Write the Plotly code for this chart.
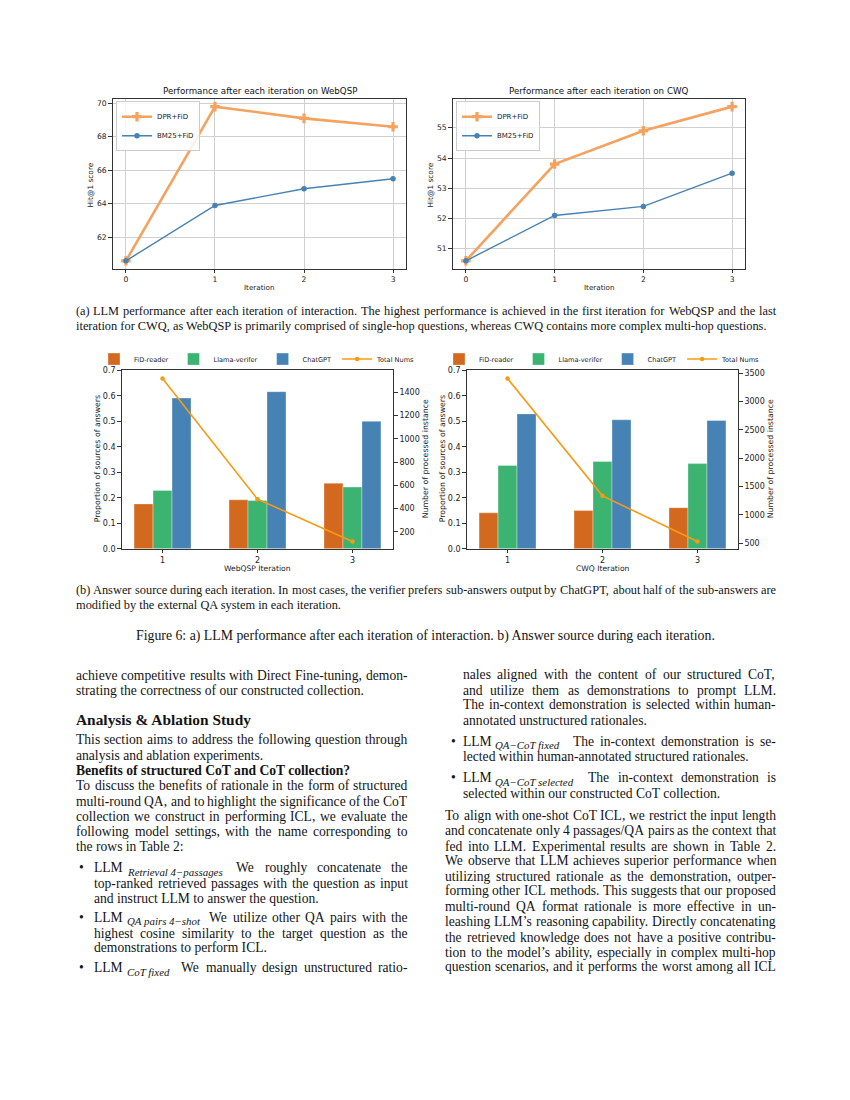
import re
import plotly.graph_objects as go

W, H = 850, 1100


def X(px):
    return px / W


def Y(py):
    return 1 - py / H


SANS = "DejaVu Sans"
SERIF = "Liberation Serif"
INK = "#141414"

# ---------------- data ----------------
iterations = [0, 1, 2, 3]
webqsp_dpr_fid = [60.6, 69.8, 69.1, 68.6]
webqsp_bm25_fid = [60.6, 63.9, 64.9, 65.5]
cwq_dpr_fid = [50.6, 53.8, 54.9, 55.7]
cwq_bm25_fid = [50.6, 52.1, 52.4, 53.5]

src_iters = [1, 2, 3]
webqsp_fid_reader = [0.176, 0.192, 0.257]
webqsp_llama_verifer = [0.229, 0.189, 0.242]
webqsp_chatgpt = [0.591, 0.616, 0.500]
webqsp_total_nums = [1520, 482, 118]
cwq_fid_reader = [0.141, 0.150, 0.161]
cwq_llama_verifer = [0.327, 0.342, 0.334]
cwq_chatgpt = [0.529, 0.506, 0.503]
cwq_total_nums = [3405, 1335, 530]

line_series = ["DPR+FiD", "BM25+FiD"]
source_series = ["FiD-reader", "Llama-verifer", "ChatGPT", "Total Nums"]

DPR_C = "#F4A25F"
BM25_C = "#4682B4"
FID_C = "#D2691E"
LLAMA_C = "#3CB371"
GPT_C = "#4682B4"
TOT_C = "#F89B14"
GRID = "#d0d0d0"
SPINE = "#333333"

fig = go.Figure()

# ---------------- line charts ----------------
for xa, ya, lg, dpr, bm in [("x", "y", "legend", webqsp_dpr_fid, webqsp_bm25_fid),
                            ("x2", "y2", "legend2", cwq_dpr_fid, cwq_bm25_fid)]:
    fig.add_trace(go.Scatter(x=iterations, y=dpr, name=line_series[0], mode="lines+markers",
                             line=dict(color=DPR_C, width=2.6),
                             marker=dict(symbol="cross", size=8, color=DPR_C),
                             xaxis=xa, yaxis=ya, legend=lg))
    fig.add_trace(go.Scatter(x=iterations, y=bm, name=line_series[1], mode="lines+markers",
                             line=dict(color=BM25_C, width=1.4),
                             marker=dict(symbol="circle", size=5.5, color=BM25_C),
                             xaxis=xa, yaxis=ya, legend=lg))

# ---------------- bar charts ----------------
for xa, ya, ya2, lg, fid, lla, gpt, tot in [
        ("x3", "y3", "y4", "legend3", webqsp_fid_reader, webqsp_llama_verifer, webqsp_chatgpt, webqsp_total_nums),
        ("x4", "y5", "y6", "legend4", cwq_fid_reader, cwq_llama_verifer, cwq_chatgpt, cwq_total_nums)]:
    for name, vals, col, off in [(source_series[0], fid, FID_C, -0.3),
                                 (source_series[1], lla, LLAMA_C, -0.1),
                                 (source_series[2], gpt, GPT_C, 0.1)]:
        fig.add_trace(go.Bar(x=src_iters, y=vals, name=name, width=0.2, offset=off,
                             marker=dict(color=col, line=dict(color="rgba(255,255,255,0.55)", width=0.6)),
                             xaxis=xa, yaxis=ya, legend=lg))
    fig.add_trace(go.Scatter(x=src_iters, y=tot, name=source_series[3], mode="lines+markers",
                             line=dict(color=TOT_C, width=1.6),
                             marker=dict(symbol="circle", size=4.5, color=TOT_C),
                             xaxis=xa, yaxis=ya2, legend=lg))


def ax(**kw):
    d = dict(showline=True, linecolor=SPINE, linewidth=1, ticks="outside", ticklen=3.5,
             tickwidth=1, tickcolor=SPINE, zeroline=False, showgrid=False,
             tickfont=dict(family=SANS, size=7.6, color="#222"))
    d.update(kw)
    return d


LC_Y = [Y(266.7), Y(95.7)]
BC_Y = [Y(549.3), Y(369.3)]
bar_tick = dict(family=SANS, size=8, color="#222")

layout_axes = dict(
    xaxis=ax(domain=[X(112.6), X(406.4)], anchor="y", range=[-0.15, 3.15], tick0=0, dtick=1,
             mirror=True, showgrid=True, gridcolor=GRID, gridwidth=0.8),
    yaxis=ax(domain=LC_Y, anchor="x", range=[60.14, 70.26], tick0=0, dtick=2,
             mirror=True, showgrid=True, gridcolor=GRID, gridwidth=0.8),
    xaxis2=ax(domain=[X(452.6), X(745.4)], anchor="y2", range=[-0.15, 3.15], tick0=0, dtick=1,
              mirror=True, showgrid=True, gridcolor=GRID, gridwidth=0.8),
    yaxis2=ax(domain=LC_Y, anchor="x2", range=[50.345, 55.955], tick0=0, dtick=1,
              mirror=True, showgrid=True, gridcolor=GRID, gridwidth=0.8),
    xaxis3=ax(domain=[X(121.7), X(393.3)], anchor="y3", range=[0.57, 3.43], tick0=0, dtick=1,
              mirror=True, tickfont=bar_tick),
    yaxis3=ax(domain=BC_Y, anchor="x3", range=[0, 0.7], tick0=0, dtick=0.1, tickformat=".1f",
              tickfont=bar_tick),
    yaxis4=ax(overlaying="y3", anchor="x3", side="right", range=[55, 1590], tick0=0, dtick=200,
              tickfont=bar_tick),
    xaxis4=ax(domain=[X(466.7), X(738.3)], anchor="y5", range=[0.57, 3.43], tick0=0, dtick=1,
              mirror=True, tickfont=bar_tick),
    yaxis5=ax(domain=BC_Y, anchor="x4", range=[0, 0.7], tick0=0, dtick=0.1, tickformat=".1f",
              tickfont=bar_tick),
    yaxis6=ax(overlaying="y5", anchor="x4", side="right", range=[400, 3552], tick0=0, dtick=500,
              tickfont=bar_tick),
)

line_legend = lambda xpx: dict(x=X(xpx), y=Y(98), xanchor="left", yanchor="top",
                               bgcolor="rgba(255,255,255,0.85)", bordercolor="#cccccc", borderwidth=1,
                               font=dict(family=SANS, size=7.0, color="#222"), itemwidth=30,
                               tracegroupgap=0)
bar_legend = lambda xpx: dict(x=X(xpx), y=Y(358), xanchor="center", yanchor="middle",
                              orientation="h", bgcolor="rgba(0,0,0,0)",
                              font=dict(family=SANS, size=6.6, color="#222"), itemwidth=30)

# ---------------- text ----------------
TW = {' ': 250, '!': 333, '"': 408, '#': 500, '$': 500, '%': 833, '&': 778, "'": 180, '(': 333,
      ')': 333, '*': 500, '+': 564, ',': 250, '-': 333, '.': 250, '/': 278, ':': 278, ';': 278,
      '<': 564, '=': 564, '>': 564, '?': 444, '@': 921, '[': 333, ']': 333, '’': 333, '•': 350,
      '−': 564,
      'A': 722, 'B': 667, 'C': 667, 'D': 722, 'E': 611, 'F': 556, 'G': 722, 'H': 722, 'I': 333,
      'J': 389, 'K': 722, 'L': 611, 'M': 889, 'N': 722, 'O': 722, 'P': 556, 'Q': 722, 'R': 667,
      'S': 556, 'T': 611, 'U': 722, 'V': 722, 'W': 944, 'X': 722, 'Y': 722, 'Z': 611,
      'a': 444, 'b': 500, 'c': 444, 'd': 500, 'e': 444, 'f': 333, 'g': 500, 'h': 500, 'i': 278,
      'j': 278, 'k': 500, 'l': 278, 'm': 778, 'n': 500, 'o': 500, 'p': 500, 'q': 500, 'r': 333,
      's': 389, 't': 278, 'u': 500, 'v': 500, 'w': 722, 'x': 500, 'y': 500, 'z': 444}
for d in "0123456789":
    TW[d] = 500


def em(s):
    return sum(TW.get(c, 500) for c in s) / 1000.0


ann = []


def put(text, xpx, ypx, size, family=SERIF, xanchor="left", color=INK, angle=0):
    ann.append(dict(text=text, x=X(xpx), y=Y(ypx), xref="paper", yref="paper", showarrow=False,
                    xanchor=xanchor, yanchor="middle", textangle=angle, borderpad=0,
                    font=dict(family=family, size=size, color=color)))


SUB_F = 0.8


def place_line(text, x0, x1, yc, size, justify):
    toks = re.findall(r'_\{[^}]*\}|\S+', text)
    has_sub = any(t.startswith('_{') for t in toks)
    if not justify and not has_sub:
        put(text, x0, yc, size)
        return
    items = []
    for t in toks:
        if t.startswith('_{'):
            s = t[2:-1]
            sz = size * SUB_F
            items.append(("<i>%s</i>" % s, sz, em(s) * sz * 1.07, size * 0.3, True))
        else:
            items.append((t, size, em(t) * size, 0.0, False))
    fixed_gap = size * 0.3
    n_fixed = sum(1 for it in items if it[4])
    total = sum(i[2] for i in items) + n_fixed * fixed_gap
    n_gaps = len(items) - 1 - n_fixed
    if justify and n_gaps > 0:
        gap = (x1 - x0 - total) / n_gaps
    else:
        gap = size * 0.25
    x = x0
    for k, (txt, sz, w, dy, is_sub) in enumerate(items):
        if is_sub:
            x = x - gap + fixed_gap
        put(txt, x, yc + dy, sz)
        x += w + gap


BODY = 13.6

# captions
cap_a = ["(a) LLM performance after each iteration of interaction. The highest performance is achieved in the first iteration for WebQSP and the last",
         "iteration for CWQ, as WebQSP is primarily comprised of single-hop questions, whereas CWQ contains more complex multi-hop questions."]
cap_b = ["(b) Answer source during each iteration. In most cases, the verifier prefers sub-answers output by ChatGPT, about half of the sub-answers are",
         "modified by the external QA system in each iteration."]
fig_caption = "Figure 6: a) LLM performance after each iteration of interaction. b) Answer source during each iteration."

CAP = min(693.0 / em(cap_a[1]), 13.6)
place_line(cap_a[0], 75, 775, 310, CAP, True)
place_line(cap_a[1], 75, 775, 325, CAP, False)
place_line(cap_b[0], 75, 775, 591, CAP, True)
place_line(cap_b[1], 75, 775, 606, CAP, False)
FIGCAP = min(580.0 / em(fig_caption), 14.2)
put(fig_caption, 425, 637.5, FIGCAP, xanchor="center")

# left column
left_col = [
    ("achieve competitive results with Direct Fine-tuning, demon-", 676.7, True, 75),
    ("strating the correctness of our constructed collection.", 692.3, False, 75),
    ("This section aims to address the following question through", 741.7, True, 75),
    ("analysis and ablation experiments.", 757.7, False, 75),
    ("To discuss the benefits of rationale in the form of structured", 788.3, True, 75),
    ("multi-round QA, and to highlight the significance of the CoT", 804.0, True, 75),
    ("collection we construct in performing ICL, we evaluate the", 819.3, True, 75),
    ("following model settings, with the name corresponding to", 834.3, True, 75),
    ("the rows in Table 2:", 849.3, False, 75),
    ("LLM _{Retrieval 4−passages} We roughly concatenate the", 871.0, True, 93.3),
    ("top-ranked retrieved passages with the question as input", 886.7, True, 93.3),
    ("and instruct LLM to answer the question.", 901.7, False, 93.3),
    ("LLM _{QA pairs 4−shot} We utilize other QA pairs with the", 920.7, True, 93.3),
    ("highest cosine similarity to the target question as the", 936.7, True, 93.3),
    ("demonstrations to perform ICL.", 951.7, False, 93.3),
    ("LLM _{CoT fixed} We manually design unstructured ratio-", 971.7, True, 93.3),
]
for txt, yc, j, x0 in left_col:
    place_line(txt, x0, 406.5, yc, BODY, j)
for yb in [871.0, 920.7, 971.7]:
    put("•", 78.3, yb, BODY)
put("<b>Analysis &amp; Ablation Study</b>", 75, 721.7, 15.4)
put("<b>Benefits of structured CoT and CoT collection?</b>", 75, 773.3, BODY)

# right column
right_col = [
    ("nales aligned with the content of our structured CoT,", 676.0, True, 461.7),
    ("and utilize them as demonstrations to prompt LLM.", 691.7, True, 461.7),
    ("The in-context demonstration is selected within human-", 706.7, True, 461.7),
    ("annotated unstructured rationales.", 722.3, False, 461.7),
    ("LLM _{QA−CoT fixed} The in-context demonstration is se-", 743.3, True, 461.7),
    ("lected within human-annotated structured rationales.", 759.0, False, 461.7),
    ("LLM _{QA−CoT selected} The in-context demonstration is", 780.0, True, 461.7),
    ("selected within our constructed CoT collection.", 795.7, False, 461.7),
    ("To align with one-shot CoT ICL, we restrict the input length", 818.3, True, 444),
    ("and concatenate only 4 passages/QA pairs as the context that", 833.3, True, 444),
    ("fed into LLM. Experimental results are shown in Table 2.", 849.0, True, 444),
    ("We observe that LLM achieves superior performance when", 864.0, True, 444),
    ("utilizing structured rationale as the demonstration, outper-", 879.3, True, 444),
    ("forming other ICL methods. This suggests that our proposed", 894.3, True, 444),
    ("multi-round QA format rationale is more effective in un-", 910.0, True, 444),
    ("leashing LLM’s reasoning capability. Directly concatenating", 925.0, True, 444),
    ("the retrieved knowledge does not have a positive contribu-", 940.7, True, 444),
    ("tion to the model’s ability, especially in complex multi-hop", 956.0, True, 444),
    ("question scenarios, and it performs the worst among all ICL", 970.7, True, 444),
]
for txt, yc, j, x0 in right_col:
    place_line(txt, x0, 775, yc, BODY, j)
for yb in [743.3, 780.0]:
    put("•", 450, yb, BODY)

# chart titles and axis labels
put("Performance after each iteration on WebQSP", 259.5, 88, 8.7, SANS, "center", "#111")
put("Performance after each iteration on CWQ", 599, 88, 8.7, SANS, "center", "#111")
put("Iteration", 259.5, 286, 7.2, SANS, "center", "#222")
put("Iteration", 599, 286, 7.2, SANS, "center", "#222")
put("Hit@1 score", 91, 183, 7.4, SANS, "center", "#222", -90)
put("Hit@1 score", 431, 183, 7.4, SANS, "center", "#222", -90)
put("WebQSP Iteration", 257.5, 569, 7.6, SANS, "center", "#222")
put("CWQ Iteration", 602.5, 569, 7.6, SANS, "center", "#222")
put("Proportion of sources of answers", 97, 459, 7.8, SANS, "center", "#222", -90)
put("Proportion of sources of answers", 442, 459, 7.8, SANS, "center", "#222", -90)
put("Number of processed instance", 425, 459, 7.8, SANS, "center", "#222", -90)
put("Number of processed instance", 770, 459, 7.8, SANS, "center", "#222", -90)

fig.update_layout(
    width=W, height=H, autosize=False,
    margin=dict(l=0, r=0, t=0, b=0),
    paper_bgcolor="white", plot_bgcolor="white",
    barmode="overlay",
    font=dict(family=SANS, color="#222"),
    legend=line_legend(116),
    legend2=line_legend(456),
    legend3=bar_legend(257.5),
    legend4=bar_legend(602.5),
    annotations=ann,
    **layout_axes,
)

fig.write_html("out.html", config={"displayModeBar": False},
               post_script="document.body.style.margin='0px';document.body.style.padding='0px';")
